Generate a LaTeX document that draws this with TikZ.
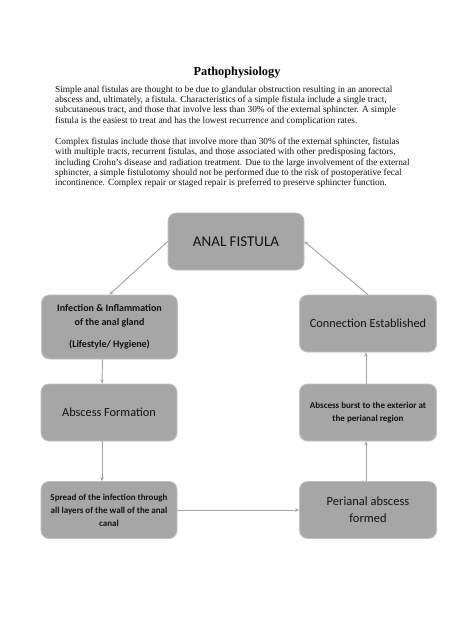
\documentclass[tikz,border=0pt]{standalone}
\usepackage{fontspec}
\setmainfont{Liberation Serif}
\newfontfamily\boxfont{Carlito}
\usetikzlibrary{arrows.meta}
\definecolor{boxfill}{HTML}{A6A6A6}
\definecolor{boxline}{HTML}{C2C2C2}
\definecolor{arrowcol}{HTML}{A3A3A3}
\definecolor{txt}{HTML}{111111}
\begin{document}
\begin{tikzpicture}[x=1pt,y=-1pt,
  stagebox/.style={draw=boxline, line width=0.8pt, fill=boxfill, rounded corners=8pt,
    minimum width=136pt, minimum height=57pt, inner sep=2pt, align=center,
    text=txt, font=\boxfont},
  flow/.style={draw=arrowcol, line width=0.9pt, -{Stealth[length=4pt,width=3.5pt]}},
  para/.style={anchor=north west, inner sep=0pt, align=left, text=txt,
    font=\fontsize{9.3}{10.35}\selectfont}
]
\useasboundingbox (0,0) rectangle (474,632);
\fill[white] (0,0) rectangle (474,632);

\node[anchor=base, inner sep=0pt, text=black, font=\bfseries\fontsize{12.3}{14}\selectfont] (title) at (237,75) {Pathophysiology};

\node[para] (p1) at (55,84.75) {\strut Simple anal fistulas are thought to be due to glandular obstruction resulting in an anorectal\\
abscess and, ultimately, a fistula. Characteristics of a simple fistula include a single tract,\\
subcutaneous tract, and those that involve less than 30\% of the external sphincter. A simple\\
fistula is the easiest to treat and has the lowest recurrence and complication rates.};

\node[para] (p2) at (55,137.05) {\strut Complex fistulas include those that involve more than 30\% of the external sphincter, fistulas\\
with multiple tracts, recurrent fistulas, and those associated with other predisposing factors,\\
including Crohn's disease and radiation treatment. Due to the large involvement of the external\\
sphincter, a simple fistulotomy should not be performed due to the risk of postoperative fecal\\
incontinence. Complex repair or staged repair is preferred to preserve sphincter function.};

\node[stagebox, font=\boxfont\fontsize{15}{18}\selectfont] (af) at (236,241.5) {ANAL FISTULA};

\node[stagebox, minimum height=64pt, font=\boxfont\bfseries\fontsize{10}{14.3}\selectfont] (inf) at (109.5,327)
  {Infection \& Inflammation\\of the anal gland\\[7.4pt](Lifestyle/ Hygiene)};

\node[stagebox, minimum width=137pt, font=\boxfont\fontsize{12.3}{15}\selectfont] (conn) at (368,323.5) {Connection Established};

\node[stagebox, font=\boxfont\fontsize{12.3}{15}\selectfont] (absf) at (109,412.5) {Abscess Formation};

\node[stagebox, minimum width=137pt, font=\boxfont\bfseries\fontsize{9}{13}\selectfont] (burst) at (368,412.5)
  {Abscess burst to the exterior at\\the perianal region};

\node[stagebox, font=\boxfont\bfseries\fontsize{9}{13}\selectfont] (spread) at (109,510)
  {Spread of the infection through\\all layers of the wall of the anal\\canal};

\node[stagebox, minimum width=137pt, font=\boxfont\fontsize{12.5}{16.7}\selectfont] (peri) at (368,510)
  {Perianal abscess\\formed};

\draw[flow] (af.west) -- (inf.north);
\draw[flow] ([xshift=-7pt]inf.south) -- ([xshift=-7pt]absf.north);
\draw[flow] ([xshift=-7pt]absf.south) -- ([xshift=-7pt]spread.north);
\draw[flow] (spread.east) -- (peri.west);
\draw[flow] ([xshift=-2pt]peri.north) -- ([xshift=-2pt]burst.south);
\draw[flow] ([xshift=-2pt]burst.north) -- ([xshift=-2pt]conn.south);
\draw[flow] (conn.north) -- (af.east);
\end{tikzpicture}
\end{document}
